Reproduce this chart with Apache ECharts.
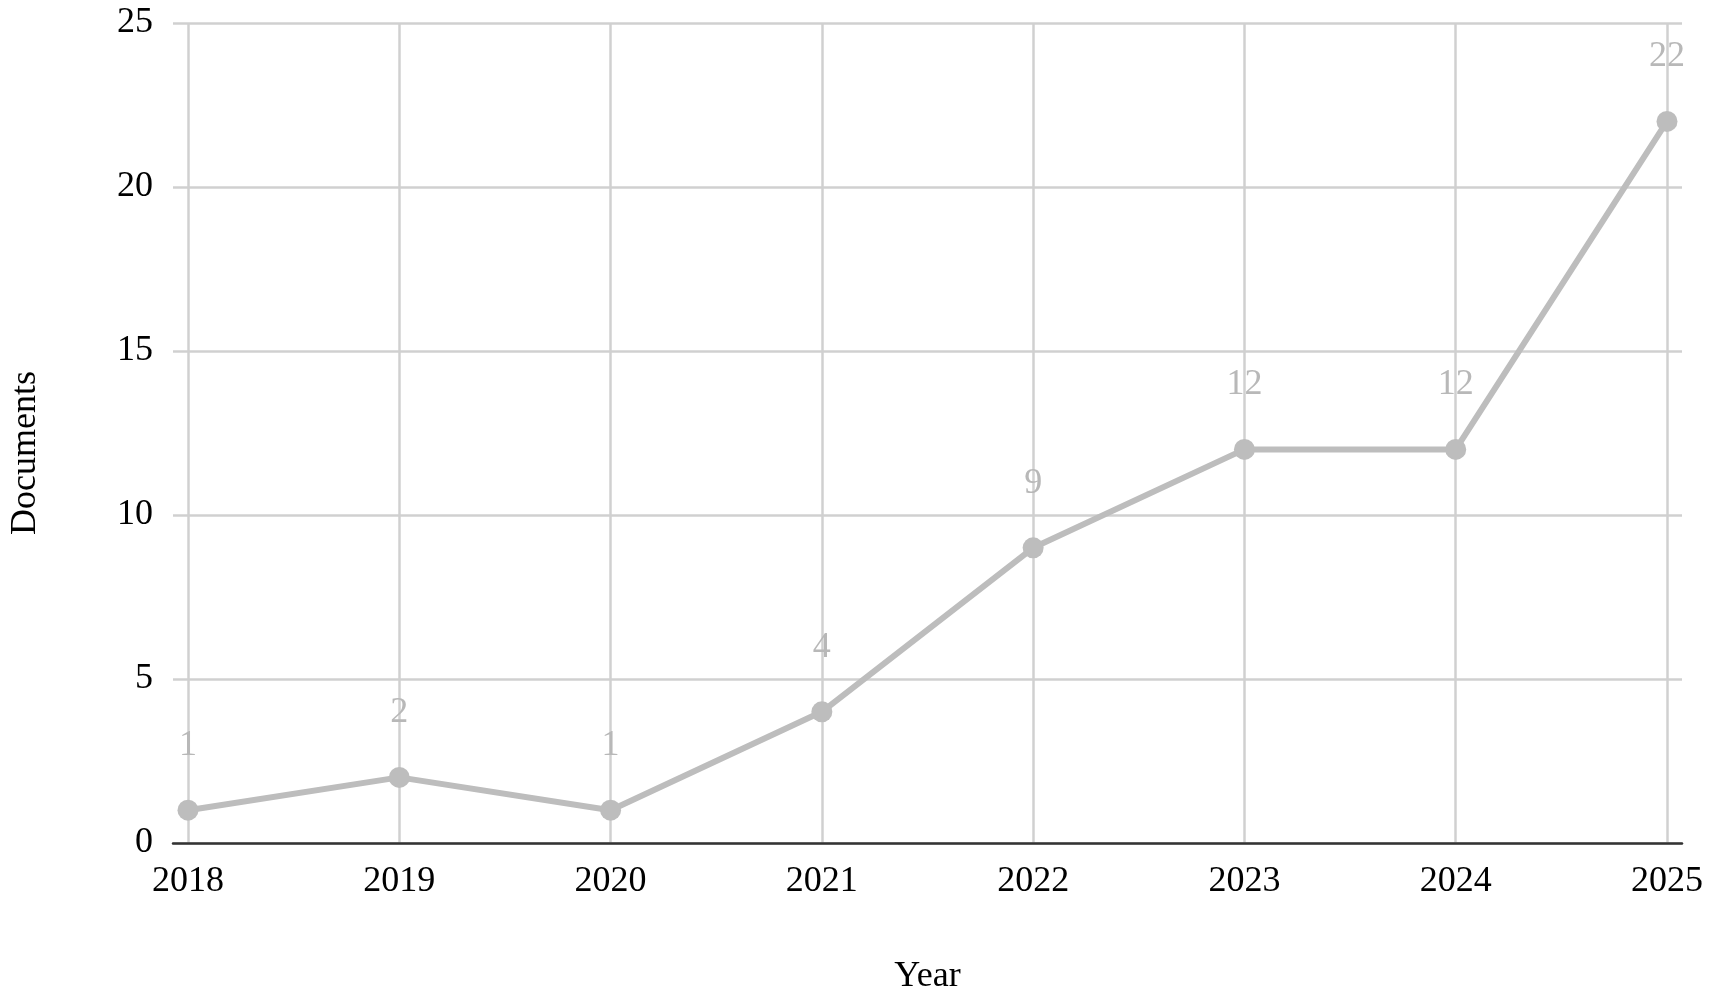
<!DOCTYPE html>
<html>
<head>
<meta charset="utf-8">
<script src="https://cdn.jsdelivr.net/npm/echarts@6/dist/echarts.min.js"></script>
<style>
  html, body { margin: 0; padding: 0; background: #fff; }
  #chart { width: 1711px; height: 1005px; }
</style>
</head>
<body>
<div id="chart"></div>
<script>
// data
var years = [2018, 2019, 2020, 2021, 2022, 2023, 2024, 2025];
var documents = [1, 2, 1, 4, 9, 12, 12, 22];
var yTicks = [0, 5, 10, 15, 20, 25];

var font = "'Liberation Serif', 'Times New Roman', serif";
var gridColor = '#d0d0d0';

var points = years.map(function (y, i) { return [y, documents[i]]; });

var chart = echarts.init(document.getElementById('chart'));
var option = {
  animation: false,
  backgroundColor: '#fff',
  grid: {
    left: 170,
    right: 29,
    top: 23,
    bottom: 162
  },
  xAxis: {
    type: 'value',
    min: 2017.929,
    max: 2025.071,
    name: 'Year',
    nameLocation: 'middle',
    nameGap: 116,
    nameTextStyle: { fontFamily: font, fontSize: 36, color: '#000', lineHeight: 36 },
    axisLine: { show: true, lineStyle: { color: '#333', width: 2.5 } },
    axisTick: { show: false, customValues: years },
    axisLabel: {
      customValues: years,
      margin: 21,
      fontFamily: font,
      fontSize: 36,
      lineHeight: 36,
      color: '#000',
      formatter: function (v) { return String(v); }
    },
    splitLine: { show: true, lineStyle: { color: gridColor, width: 2.5 } }
  },
  yAxis: {
    type: 'value',
    min: 0,
    max: 25,
    interval: 5,
    name: 'Documents',
    nameLocation: 'middle',
    nameGap: 129,
    nameTextStyle: { fontFamily: font, fontSize: 36, color: '#000', lineHeight: 36, padding: [0, 40, 0, 0] },
    axisLine: { show: false },
    axisTick: { show: false },
    axisLabel: {
      customValues: yTicks,
      margin: 20,
      fontFamily: font,
      fontSize: 36,
      color: '#000'
    },
    splitLine: { show: true, lineStyle: { color: gridColor, width: 2.5 } }
  },
  series: [{
    type: 'line',
    data: points,
    symbol: 'circle',
    symbolSize: 21,
    lineStyle: { color: '#bdbdbd', width: 6 },
    itemStyle: { color: '#bdbdbd' },
    label: {
      show: true,
      position: 'top',
      distance: 36,
      fontFamily: font,
      fontSize: 36,
      lineHeight: 36,
      color: '#b8b8b8',
      formatter: function (p) { return p.value[1]; }
    }
  }]
};
chart.setOption(option);
</script>
</body>
</html>
